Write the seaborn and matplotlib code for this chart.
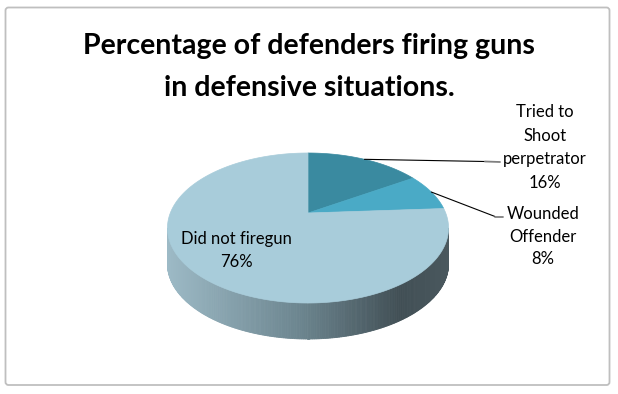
import numpy as np
import matplotlib
matplotlib.use("Agg")
import matplotlib.pyplot as plt
from matplotlib.patches import Polygon, FancyBboxPatch
from matplotlib.colors import to_rgb
import seaborn as sns

# ---- data ----
categories = ["Tried to\nShoot\nperpetrator", "Wounded\nOffender", "Did not firegun"]
values = [16, 8, 76]
slice_colors = ["#3A8AA0", "#4AAAC6", "#A8CCDA"]
title_lines = ["Percentage of defenders firing guns", "in defensive situations."]

sns.set_theme(style="white")
plt.rcParams['font.family'] = ['Lato', 'DejaVu Sans']
palette = sns.color_palette(slice_colors)

fig = plt.figure(figsize=(6.18, 3.94), dpi=100)
ax = fig.add_axes([0, 0, 1, 1])
ax.set_xlim(0, 618)
ax.set_ylim(394, 0)
ax.axis('off')

# border
ax.add_patch(FancyBboxPatch((5.5, 7.5), 604, 377.5, boxstyle="round,pad=0,rounding_size=3",
                            fc="white", ec="#BFBFBF", lw=1.3, zorder=0))

# perspective pie geometry
cx, cy, bx, ay, kp, depth = 308.0, 213.0, 137.7, 72.0, 0.2, 36.0

def proj(phi_deg):
    p = np.radians(phi_deg)
    X, Y = np.cos(p), np.sin(p)
    d = 1 + kp * Y
    return cx + bx * X / d, cy - ay * Y / d

# side (front arc)
phis = np.linspace(-11.5, -168.5, 260)
xs, ys = proj(phis)
stops_x = [167, 300, 400, 448]
stops_c = [np.array(to_rgb(c)) for c in ["#9DBAC6", "#6C858F", "#414F55", "#4A585E"]]
def grad(x):
    return np.array([np.interp(x, stops_x, [c[i] for c in stops_c]) for i in range(3)])
for i in range(len(phis) - 1):
    quad = [(xs[i], ys[i]), (xs[i + 1], ys[i + 1]), (xs[i + 1], ys[i + 1] + depth), (xs[i], ys[i] + depth)]
    xm = 0.5 * (xs[i] + xs[i + 1])
    col = grad(xm)
    ax.add_patch(Polygon(quad, closed=True, fc=col, ec=col, lw=0.6, zorder=1))

# top slices
total = sum(values)
cum = 0.0
mids = []
for v, col in zip(values, palette):
    start = 90 - 360 * cum / total
    end = 90 - 360 * (cum + v) / total
    arc = np.linspace(start, end, max(int(abs(end - start)), 2) * 2)
    ax_, ay_ = proj(arc)
    pts = [(cx, cy)] + list(zip(ax_, ay_))
    ax.add_patch(Polygon(pts, closed=True, fc=col, ec=col, lw=0.5, zorder=2))
    mids.append(90 - 360 * (cum + v / 2) / total)
    cum += v

def put_lines(lines, x, y0, step, size, **kw):
    for j, ln in enumerate(lines):
        ax.text(x, y0 + j * step, ln, ha="center", va="baseline", fontsize=size, color="#000000", zorder=5, **kw)

# title
put_lines(title_lines, 309, 54, 42, 20.5, fontweight="bold")

lab_size = 12
# label 1
lines1 = categories[0].split("\n") + [f"{values[0]}%"]
put_lines(lines1, 545, 117, 23.5, lab_size)
x0, y0 = proj(mids[0])
ax.plot([x0, 485], [y0, 161.5], color="#000000", lw=0.8, zorder=4)
ax.plot([485, 500], [161.5, 162], color="#808080", lw=1.3, zorder=4)
# label 2
lines2 = categories[1].split("\n") + [f"{values[1]}%"]
put_lines(lines2, 543, 219, 22.5, lab_size)
x1, y1 = proj(mids[1])
ax.plot([x1, 495], [y1, 216.5], color="#000000", lw=0.8, zorder=4)
ax.plot([495, 503], [216.5, 216.5], color="#808080", lw=1.3, zorder=4)
# label 3
lines3 = categories[2].split("\n") + [f"{values[2]}%"]
put_lines(lines3, 236, 244, 23, lab_size)

fig.savefig("out.png", dpi=100)
